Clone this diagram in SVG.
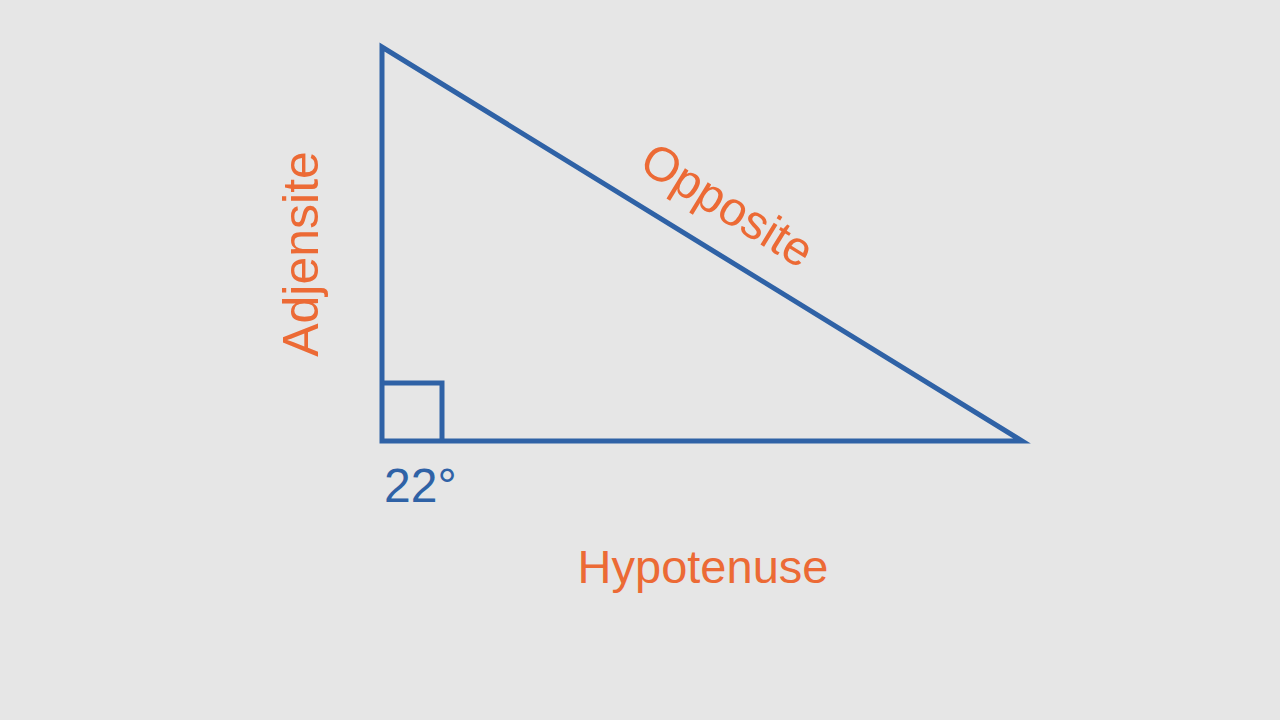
<svg xmlns="http://www.w3.org/2000/svg" width="1280" height="720" viewBox="0 0 1280 720">
<style>
.edge{fill:none;stroke:#2f62a6;stroke-width:5;stroke-linejoin:miter;stroke-miterlimit:20}
.lbl{font-family:"Liberation Sans",Arial,sans-serif;fill:#ec6a35;font-size:47px}
.ang{font-family:"Liberation Sans",Arial,sans-serif;fill:#2f62a6;font-size:48px}
</style>
<rect width="1280" height="720" fill="#e6e6e6"/>
<g id="triangle">
<path class="edge" d="M382,47 L382,441 L1022,441 Z"/>
<path class="edge" d="M382,383 L442,383 L442,441"/>
</g>
<g id="angle-label"><text class="ang" x="384" y="502">22°</text></g>
<g id="hypotenuse-label"><text class="lbl" x="703" y="583" text-anchor="middle">Hypotenuse</text></g>
<g id="adjensite-label"><text class="lbl" text-anchor="middle" style="font-size:50px" transform="translate(318,254) rotate(-90)">Adjensite</text></g>
<g id="opposite-label"><text class="lbl" text-anchor="middle" style="font-size:48px" transform="translate(719,219) rotate(31.6)">Opposite</text></g>
</svg>
